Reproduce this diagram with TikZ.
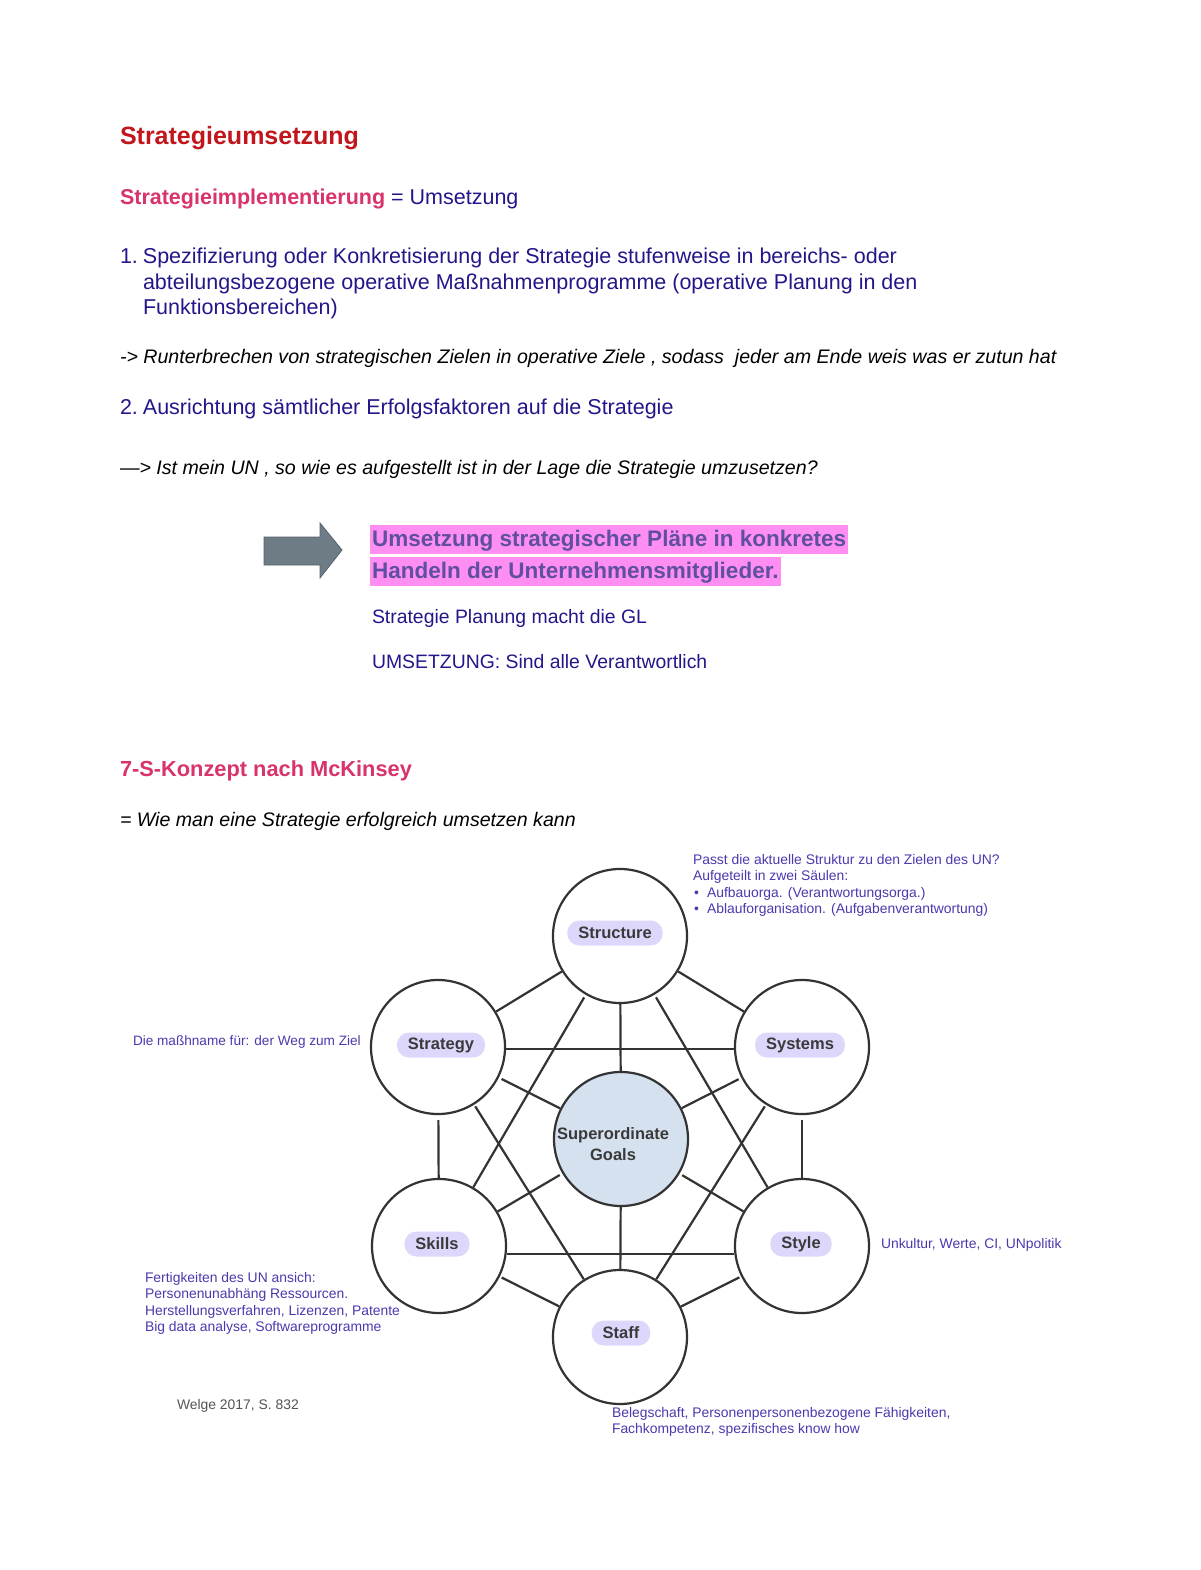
\documentclass[tikz,border=0pt]{standalone}
\usepackage{fontspec}
\setmainfont{Liberation Sans}
\usetikzlibrary{calc}
\definecolor{titlered}{HTML}{C0161C}
\definecolor{pinkred}{HTML}{D9336B}
\definecolor{navy}{HTML}{22178A}
\definecolor{annot}{HTML}{4A3AAE}
\definecolor{hltext}{HTML}{5E4FA0}
\definecolor{hlbg}{HTML}{FF8EF3}
\definecolor{welge}{HTML}{555555}
\definecolor{labtext}{HTML}{3A3A3A}
\definecolor{pill}{HTML}{DCD7FB}
\definecolor{centerfill}{HTML}{D5E1EF}
\definecolor{linecol}{HTML}{333333}
\definecolor{arrowfill}{HTML}{6E7C85}
\definecolor{arrowdraw}{HTML}{56626B}
\newcommand\myfs[1]{\fontsize{#1}{#1}\selectfont}
\begin{document}
\begin{tikzpicture}[x=1pt,y=-1pt,
  txt/.style={anchor=base west, inner sep=0pt, outer sep=0pt},
  body/.style={txt, font=\myfs{21.5}, text=navy},
  ital/.style={txt, font=\myfs{19.6}\itshape, text=black},
  small/.style={txt, font=\myfs{13.9}, text=annot},
  hl/.style={anchor=base west, fill=hlbg, inner xsep=2pt, inner ysep=1pt, text height=20pt, text depth=7pt, font=\myfs{22.5}\bfseries, text=hltext},
  circ/.style={circle, draw=linecol, line width=2.2pt, minimum size=134pt, inner sep=0pt, fill=white},
  pilllab/.style={fill=pill, rounded corners=12pt, minimum height=25pt, inner xsep=11pt, inner ysep=0pt, font=\myfs{16.5}\bfseries, text=labtext},
  conn/.style={draw=linecol, line width=2.2pt}
]
\useasboundingbox[fill=white] (0,0) rectangle (1200,1570);

% header text
\node[txt, font=\myfs{25}\bfseries, text=titlered] (title) at (120,145) {Strategieumsetzung};
\node[txt, font=\myfs{21.5}] (impl) at (120,205) {\textcolor{pinkred}{\bfseries Strategieimplementierung} \textcolor{navy}{= Umsetzung}};
\node[body] (p1a) at (120,263.5) {1.\hspace{5pt}Spezifizierung oder Konkretisierung der Strategie stufenweise in bereichs- oder};
\node[body] (p1b) at (143,289) {abteilungsbezogene operative Maßnahmenprogramme (operative Planung in den};
\node[body] (p1c) at (143,314.5) {Funktionsbereichen)};
\node[ital] (r1) at (120,363) {-> Runterbrechen von strategischen Zielen in operative Ziele , sodass\ \ jeder am Ende weis was er zutun hat};
\node[body] (p2) at (120,414) {2.\hspace{5pt}Ausrichtung sämtlicher Erfolgsfaktoren auf die Strategie};
\node[ital] (r2) at (120,474) {—> Ist mein UN , so wie es aufgestellt ist in der Lage die Strategie umzusetzen?};

% arrow
\draw[fill=arrowfill, draw=arrowdraw, line width=0.8pt] (264,537) -- (320,537) -- (320,523) -- (342,550) -- (320,578) -- (320,565) -- (264,565) -- cycle;

\node[hl] (h1) at (370,546) {Umsetzung strategischer Pläne in konkretes};
\node[hl] (h2) at (370,578) {Handeln der Unternehmensmitglieder.};
\node[txt, font=\myfs{19.4}, text=navy] (gl) at (372,623) {Strategie Planung macht die GL};
\node[txt, font=\myfs{19.4}, text=navy] (um) at (372,668) {UMSETZUNG: Sind alle Verantwortlich};

\node[txt, font=\myfs{21.8}\bfseries, text=pinkred] (seven) at (120,776) {7-S-Konzept nach McKinsey};
\node[ital] (wie) at (120,826) {= Wie man eine Strategie erfolgreich umsetzen kann};

% circles
\node[circ] (structure) at (620,936) {};
\node[circ] (strategy) at (438,1047) {};
\node[circ] (systems) at (802,1047) {};
\node[circ] (skills) at (439,1246) {};
\node[circ] (style) at (802,1246) {};
\node[circ] (staff) at (620,1337) {};
\node[circ, fill=centerfill] (goals) at (621,1139) {};

% connectors
\draw[conn] (structure) -- (strategy);
\draw[conn] (structure) -- (systems);
\draw[conn] (structure) -- (goals);
\draw[conn, shorten <=3pt] (structure) -- (skills);
\draw[conn, shorten <=3pt] (structure) -- (style);
\draw[conn] (strategy.-2) -- (systems.182);
\draw[conn, shorten <=3pt] (strategy) -- (goals);
\draw[conn, shorten <=2pt] (strategy) -- (staff);
\draw[conn, shorten <=5pt] (strategy) -- (skills);
\draw[conn, shorten <=3pt] (systems) -- (goals);
\draw[conn, shorten <=2pt] (systems) -- (staff);
\draw[conn, shorten <=5pt] (systems) -- (style);
\draw[conn, shorten <=3pt] (goals) -- (skills);
\draw[conn, shorten <=3pt] (goals) -- (style);
\draw[conn] (goals) -- (staff);
\draw[conn] (skills.-7) -- (style.187);
\draw[conn, shorten <=2pt] (skills) -- (staff);
\draw[conn, shorten <=2pt] (style) -- (staff);

% labels
\node[pilllab] (lstructure) at (615,933) {Structure};
\node[pilllab] (lstrategy) at (441,1045) {Strategy};
\node[pilllab] (lsystems) at (800,1045) {Systems};
\node[pilllab] (lskills) at (437,1244) {Skills};
\node[pilllab] (lstyle) at (801,1244) {Style};
\node[pilllab] (lstaff) at (621,1333) {Staff};
\node[font=\fontsize{16.5}{21.5}\selectfont\bfseries, text=labtext, align=center, inner sep=0pt] (lgoals) at (613,1144) {Superordinate\\Goals};

% annotations
\node[small] (a1) at (693,864) {Passt die aktuelle Struktur zu den Zielen des UN?};
\node[small] (a2) at (693,880.5) {Aufgeteilt in zwei Säulen:};
\node[small] (a3b) at (694,897) {•};
\node[small] (a3) at (707,897) {Aufbauorga. (Verantwortungsorga.)};
\node[small] (a4b) at (694,913.5) {•};
\node[small] (a4) at (707,913.5) {Ablauforganisation. (Aufgabenverantwortung)};

\node[small, font=\myfs{13.6}] (b1) at (133,1045) {Die maßhname für: der Weg zum Ziel};
\node[small] (c1) at (881,1248) {Unkultur, Werte, CI, UNpolitik};

\node[small] (d1) at (145,1282) {Fertigkeiten des UN ansich:};
\node[small] (d2) at (145,1298.5) {Personenunabhäng Ressourcen.};
\node[small] (d3) at (145,1315) {Herstellungsverfahren, Lizenzen, Patente};
\node[small] (d4) at (145,1331.5) {Big data analyse, Softwareprogramme};

\node[small, text=welge] (welge) at (177,1409) {Welge 2017, S. 832};

\node[small] (e1) at (612,1417) {Belegschaft, Personenpersonenbezogene Fähigkeiten,};
\node[small] (e2) at (612,1433.5) {Fachkompetenz, spezifisches know how};
\end{tikzpicture}
\end{document}
